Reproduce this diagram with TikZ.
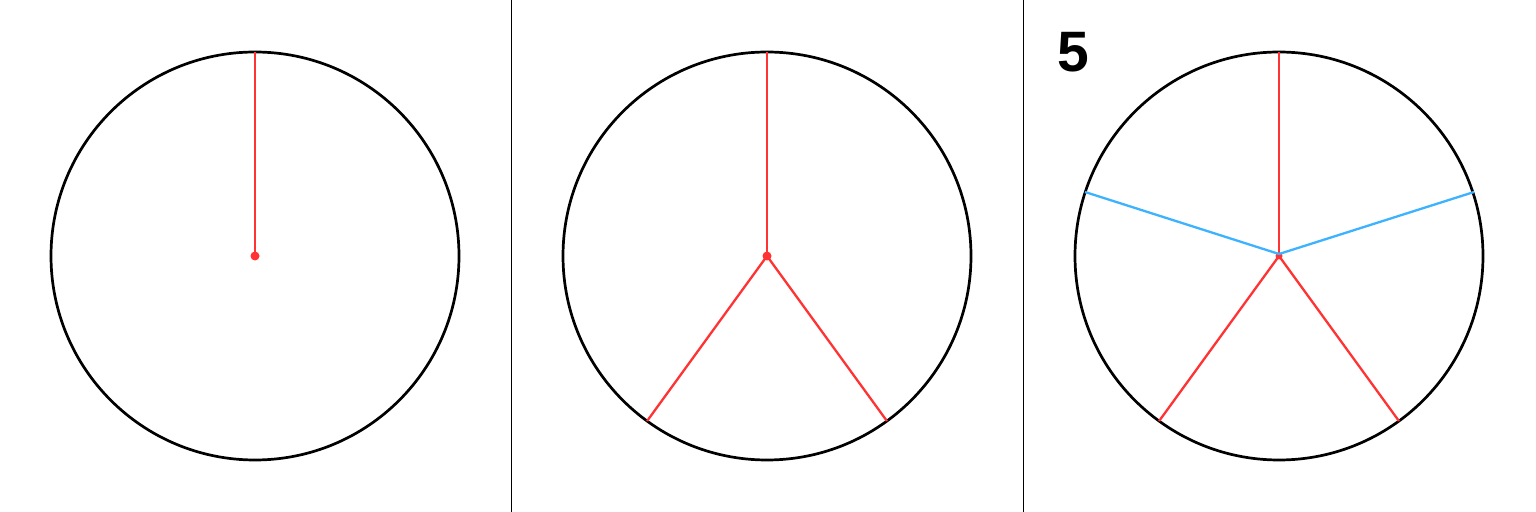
\documentclass[tikz,border=0pt]{standalone}
\usepackage{fontspec}
\setmainfont{Liberation Sans}
\definecolor{spokered}{HTML}{FF3333}
\definecolor{spokeblue}{HTML}{3DB2FF}
\begin{document}
\begin{tikzpicture}[x=0.5pt,y=-0.5pt,
  rim/.style={draw=black,line width=1.35pt},
  redspoke/.style={draw=spokered,line width=1.15pt},
  bluespoke/.style={draw=spokeblue,line width=1.15pt},
  sep/.style={draw=black,line width=0.8pt},
  hub/.style={circle,fill=spokered,inner sep=0pt,minimum size=4.5pt}]
\useasboundingbox (0,0) rectangle (1536,512);
\fill[white] (0,0) rectangle (1536,512);
\draw[sep] (511.5,0) -- (511.5,512);
\draw[sep] (1023.5,0) -- (1023.5,512);
% panel 1
\coordinate (c1) at (255,256);
\draw[rim] (c1) circle[radius=102pt];
\coordinate (t1) at (255,52);
\draw[redspoke] (c1) -- (t1);
\node[hub] (h1) at (c1) {};
% panel 2
\coordinate (c2) at (767,256);
\draw[rim] (c2) circle[radius=102pt];
\coordinate (t2) at (767,52);
\coordinate (l2) at (647.1,421.0);
\coordinate (r2) at (886.9,421.0);
\draw[redspoke] (c2) -- (t2);
\draw[redspoke] (c2) -- (l2);
\draw[redspoke] (c2) -- (r2);
\node[hub] (h2) at (c2) {};
% panel 3
\coordinate (c3) at (1279,256);
\draw[rim] (c3) circle[radius=102pt];
\coordinate (t3) at (1279,52);
\coordinate (l3) at (1159.1,421.0);
\coordinate (r3) at (1398.9,421.0);
\coordinate (bl3) at (1085,192);
\coordinate (br3) at (1474,192);
\coordinate (hb3) at (1279,254);
\draw[redspoke] (c3) -- (t3);
\draw[redspoke] (c3) -- (l3);
\draw[redspoke] (c3) -- (r3);
\node[hub,minimum size=3.5pt] (h3) at (c3) {};
\draw[bluespoke] (hb3) -- (bl3);
\draw[bluespoke] (hb3) -- (br3);
\node[font=\bfseries\fontsize{28.5}{30}\selectfont,inner sep=0pt] (lab) at (1073,52.5) {5};
\end{tikzpicture}
\end{document}
